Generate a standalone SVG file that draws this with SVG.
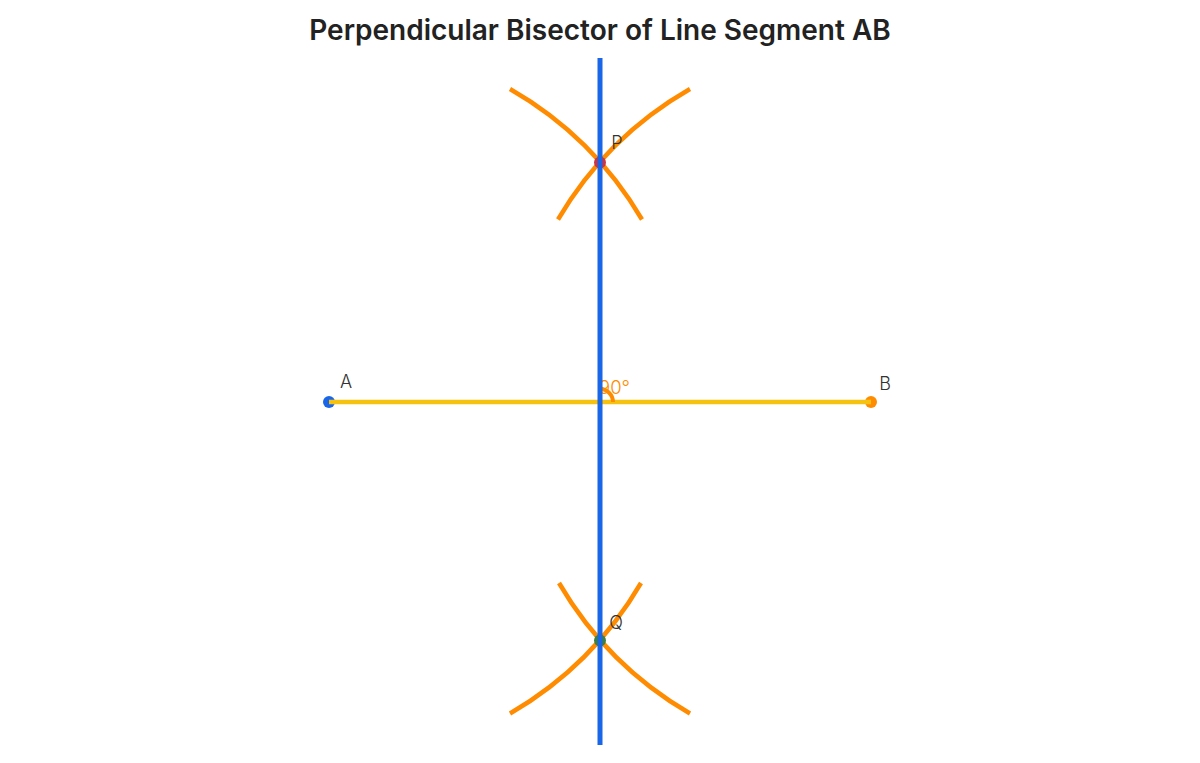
<svg xmlns="http://www.w3.org/2000/svg" width="1200" height="763" viewBox="0 0 1200 763">
<style>
.arc{fill:none;stroke:#ff8c00;stroke-width:4.5}
.lbl{font-family:Inter,"Liberation Sans",sans-serif;font-size:18px;font-weight:300;fill:#333}
.title{font-family:Inter,"Liberation Sans",sans-serif;font-size:28px;font-weight:600;fill:#222}
</style>
<rect width="1200" height="763" fill="#fff"/>
<text class="title" x="600" y="40" text-anchor="middle">Perpendicular Bisector of Line Segment AB</text>
<g id="arcs">
<path class="arc" d="M510,89 A362,362 0 0 1 642,219.5"/>
<path class="arc" d="M690,89 A362,362 0 0 0 558,219.5"/>
<path class="arc" d="M559,583 A362,362 0 0 0 690,713.5"/>
<path class="arc" d="M641,583 A362,362 0 0 1 510,713.5"/>
</g>
<g id="node-A"><circle cx="329" cy="402" r="6" fill="#1a66e8"/><text class="lbl" x="346" y="388" text-anchor="middle">A</text></g>
<g id="node-B"><circle cx="871" cy="402" r="6" fill="#ff8c00"/><text class="lbl" x="885" y="390" text-anchor="middle">B</text></g>
<g id="connectors">
<line x1="329" y1="402" x2="871" y2="402" stroke="#f5c211" stroke-width="4.5"/>
<path d="M600,389 A13,13 0 0 1 613,402" fill="none" stroke="#ff8c00" stroke-width="4"/>
<text x="599" y="393.5" style="font-family:Inter,'Liberation Sans',sans-serif;font-size:18.5px;font-weight:300;fill:#ff8c00">90°</text>
</g>
<g id="node-P"><circle cx="600" cy="162.5" r="6" fill="#cc3344"/><text class="lbl" x="617" y="149" text-anchor="middle">P</text></g>
<g id="node-Q"><circle cx="600" cy="640.5" r="6" fill="#3a8040"/><text class="lbl" x="616" y="629" text-anchor="middle">Q</text></g>
<g id="bisector"><line x1="600" y1="58" x2="600" y2="745" stroke="#1a66e8" stroke-width="5"/></g>
</svg>
